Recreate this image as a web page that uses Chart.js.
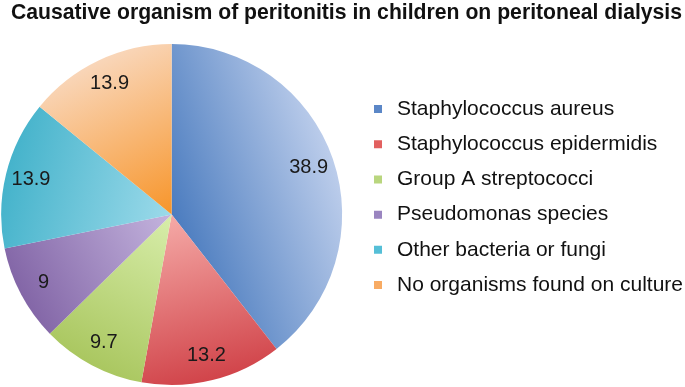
<!DOCTYPE html>
<html>

<head>
  <title>Causative organism of peritonitis</title>
  <script src="https://cdn.jsdelivr.net/npm/chart.js"></script>
  <style>
    body { margin: 0; background: #fff; }
  </style>
</head>

<body>
  <canvas id="myChart" width="685" height="387"></canvas>
  <script>
    const organisms = [
      'Staphylococcus aureus',
      'Staphylococcus epidermidis',
      'Group A streptococci',
      'Pseudomonas species',
      'Other bacteria or fungi',
      'No organisms found on culture'
    ];
    const percentages = [38.9, 13.2, 9.7, 9, 13.9, 13.9];

    // gradient colours, centre of pie -> rim
    const innerColors = ['#4b7cbf', '#f5aaa7', '#d8eeab', '#c4b4de', '#9cdaea', '#f7952a'];
    const outerColors = ['#bccdeb', '#d1444a', '#aac760', '#8366a7', '#45b3cb', '#f9d6b9'];
    const legendColors = ['#5b87c7', '#e2605f', '#b9d67e', '#9a85c0', '#55bfd7', '#f8ab63'];

    const fontFamily = "'Liberation Sans', Arial, Helvetica, sans-serif";

    // pie sits a bit further left than the layout puts it
    const shiftPie = {
      id: 'shiftPie',
      afterLayout(chart) {
        const area = chart.chartArea;
        area.left = -12;
        area.width = area.right - area.left;
      }
    };

    const gradientFill = {
      id: 'gradientFill',
      beforeDatasetsDraw(chart) {
        const ctx = chart.ctx;
        chart.getDatasetMeta(0).data.forEach((arc, i) => {
          const mid = (arc.startAngle + arc.endAngle) / 2;
          const g = ctx.createLinearGradient(arc.x, arc.y,
            arc.x + Math.cos(mid) * arc.outerRadius, arc.y + Math.sin(mid) * arc.outerRadius);
          g.addColorStop(0, innerColors[i]);
          g.addColorStop(1, outerColors[i]);
          arc.options = Object.assign({}, arc.options, { backgroundColor: g });
        });
      }
    };

    const sliceLabels = {
      id: 'sliceLabels',
      afterDatasetsDraw(chart) {
        const ctx = chart.ctx;
        ctx.save();
        ctx.font = '20px ' + fontFamily;
        ctx.fillStyle = '#1a1a1a';
        ctx.textAlign = 'center';
        ctx.textBaseline = 'middle';
        chart.getDatasetMeta(0).data.forEach((arc, i) => {
          const mid = (arc.startAngle + arc.endAngle) / 2;
          const r = arc.outerRadius * 0.85;
          ctx.fillText(String(percentages[i]), arc.x + Math.cos(mid) * r, arc.y + Math.sin(mid) * r);
        });
        ctx.restore();
      }
    };

    const ctx = document.getElementById('myChart').getContext('2d');
    const myChart = new Chart(ctx, {
      type: 'pie',
      data: {
        labels: organisms,
        datasets: [{
          data: percentages,
          backgroundColor: legendColors,
          borderWidth: 0,
          hoverOffset: 0
        }]
      },
      plugins: [shiftPie, gradientFill, sliceLabels],
      options: {
        responsive: false,
        animation: false,
        events: [],
        layout: {
          padding: { left: 0, right: -8, top: 0, bottom: 2 }
        },
        plugins: {
          title: {
            display: true,
            text: 'Causative organism of peritonitis in children on peritoneal dialysis',
            color: '#111',
            font: { family: fontFamily, size: 21.2, weight: 'bold', lineHeight: 1.2 },
            padding: { top: 0, bottom: 18.6 }
          },
          legend: {
            position: 'right',
            align: 'start',
            fullSize: false,
            title: {
              display: true,
              text: ' ',
              font: { size: 10, lineHeight: 1 },
              padding: { top: 0, bottom: 30.3 }
            },
            labels: {
              color: '#111',
              font: { family: fontFamily, size: 21 },
              usePointStyle: true,
              pointStyle: 'rect',
              boxWidth: 17,
              boxHeight: 8,
              padding: 14.2,
              generateLabels: (chart) => organisms.map((name, i) => ({
                text: name,
                fillStyle: legendColors[i],
                strokeStyle: legendColors[i],
                fontColor: '#111',
                lineWidth: 0,
                pointStyle: 'rect',
                index: i
              }))
            }
          },
          tooltip: { enabled: false }
        }
      }
    });
  </script>
</body>

</html>
